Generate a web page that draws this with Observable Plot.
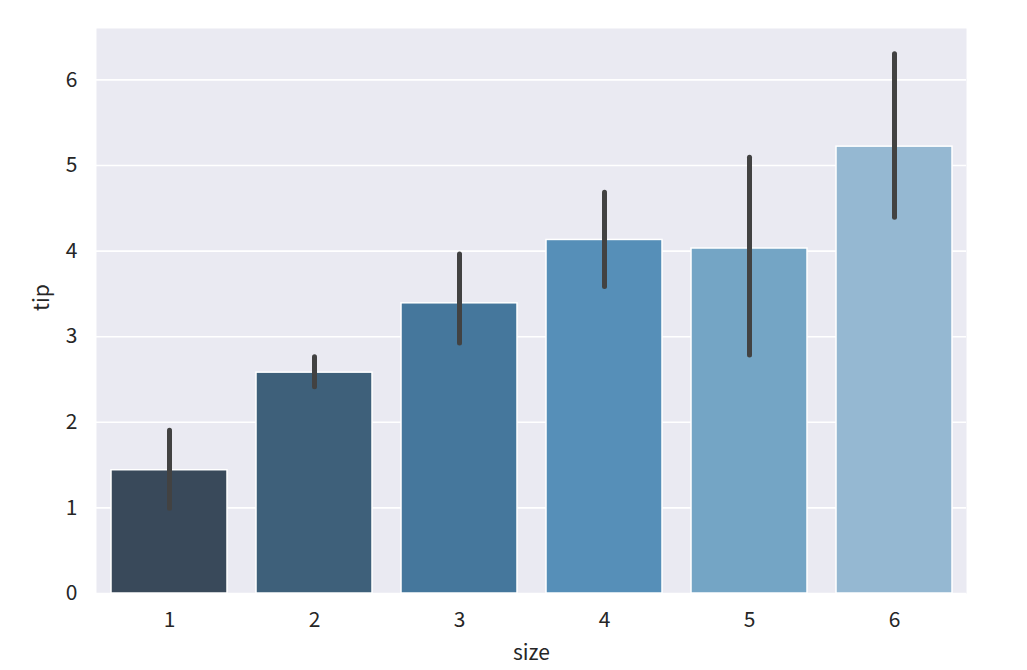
<!DOCTYPE html>
<html>
<head>
<meta charset="utf-8">
<script src="https://cdn.jsdelivr.net/npm/d3@7"></script>
<script src="https://cdn.jsdelivr.net/npm/@observablehq/plot@0.6"></script>
<style>
  html, body { margin: 0; padding: 0; background: #fff; }
  #chart svg { display: block; }
</style>
</head>
<body>
<div id="chart"></div>
<script>
const sizes = [1, 2, 3, 4, 5, 6];
const tipMeans = [1.44, 2.58, 3.39, 4.13, 4.03, 5.22];
const ciLow = [0.99, 2.41, 2.92, 3.58, 2.78, 4.39];
const ciHigh = [1.90, 2.76, 3.96, 4.68, 5.09, 6.30];
const barColors = ["#39495a", "#3e607a", "#45779c", "#568fb8", "#74a5c5", "#95b8d2"];
const yTicks = [0, 1, 2, 3, 4, 5, 6];

const data = sizes.map((s, i) => ({size: s, tip: tipMeans[i], lo: ciLow[i], hi: ciHigh[i], color: barColors[i]}));

const font = "'Noto Sans CJK SC', 'DejaVu Sans', sans-serif";

const chart = Plot.plot({
  width: 1027,
  height: 670,
  marginLeft: 96,
  marginRight: 61,
  marginTop: 28,
  marginBottom: 77,
  style: {fontFamily: font, fontSize: "20px", color: "#262626", background: "#fff"},
  x: {type: "band", domain: sizes, paddingInner: 0.2, paddingOuter: 0.1, label: null},
  y: {domain: [0, 6.6], label: null},
  marks: [
    Plot.frame({fill: "#eaeaf2", stroke: null}),
    Plot.gridY(yTicks, {stroke: "#ffffff", strokeOpacity: 1, strokeWidth: 1.6}),
    Plot.barY(data, {x: "size", y: "tip", fill: "color", stroke: "#ffffff", strokeWidth: 1.5}),
    Plot.ruleX(data, {x: "size", y1: "lo", y2: "hi", stroke: "#424242", strokeWidth: 5, strokeLinecap: "round"}),
    Plot.axisY(yTicks, {tickSize: 0, tickPadding: 19, fontSize: 21, tickFormat: d3.format("d"), label: null}),
    Plot.axisX({tickSize: 0, tickPadding: 19, fontSize: 21, label: null}),
    Plot.text(["size"], {frameAnchor: "bottom", dy: 66, fontSize: 21, letterSpacing: "2px"}),
    Plot.text(["tip"], {frameAnchor: "left", dx: -54, rotate: -90, fontSize: 21, letterSpacing: "2px"})
  ]
});
document.getElementById("chart").appendChild(chart);
</script>
</body>
</html>
